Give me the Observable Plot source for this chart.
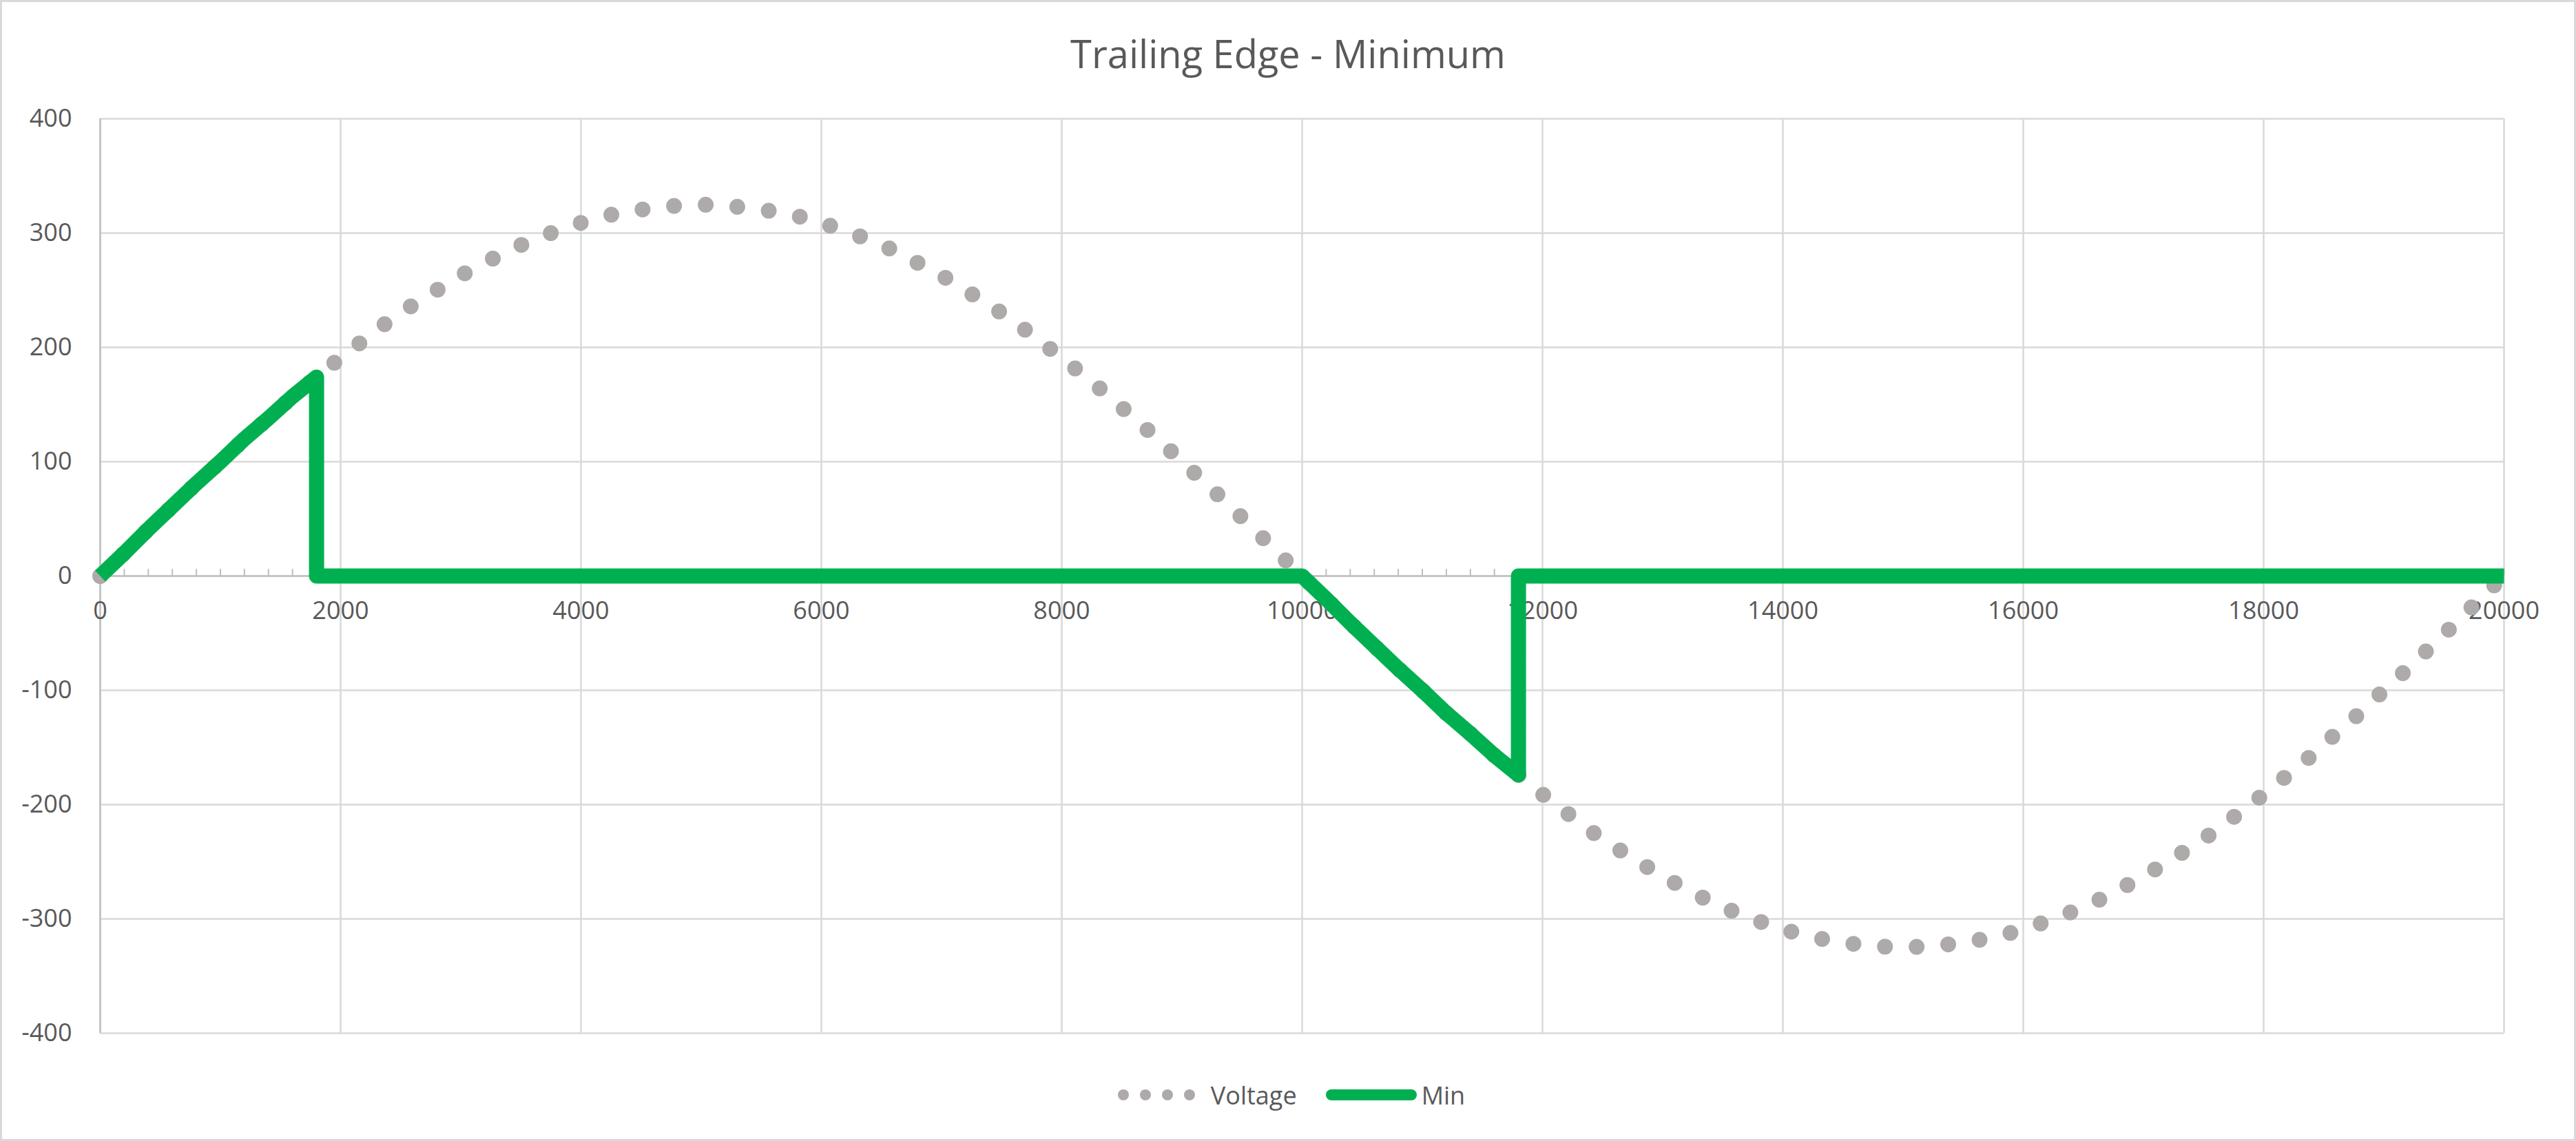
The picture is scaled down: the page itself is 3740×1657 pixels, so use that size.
<!DOCTYPE html>
<html>
<head>
<meta charset="utf-8">
<script src="https://cdn.jsdelivr.net/npm/d3@7"></script>
<script src="https://cdn.jsdelivr.net/npm/@observablehq/plot@0.6"></script>
<style>
  html, body { margin: 0; padding: 0; background: #ffffff; }
  #wrap { position: relative; width: 3740px; height: 1657px; overflow: hidden; background: #ffffff; font-family: 'Open Sans', sans-serif; color: #595959; }
  #border { position: absolute; left: 0; top: 0; right: 0; bottom: 0; border: 3px solid #D9D9D9; pointer-events: none; }
  #title { height: 140px; box-sizing: border-box; padding-top: 14px; line-height: 126px; font-size: 56px; text-align: center; color: #595959; }
  #legend { height: 100px; display: flex; align-items: center; justify-content: center; font-size: 36px; color: #595959; padding-left: 10px; }
  #legend svg { display: block; }
</style>
</head>
<body>
<div id="wrap">
  <div id="title">Trailing Edge - Minimum</div>
  <div id="chart"></div>
  <div id="legend">
    <svg width="112" height="20"><g fill="#AEAAAA"><circle cx="8" cy="10" r="8"/><circle cx="40" cy="10" r="8"/><circle cx="72" cy="10" r="8"/><circle cx="104" cy="10" r="8"/></g></svg>
    <span style="margin-left:23px">Voltage</span>
    <svg width="132" height="16" style="margin-left:42px"><line x1="8" x2="124" y1="8" y2="8" stroke="#00B050" stroke-width="16" stroke-linecap="round"/></svg>
    <span style="margin-left:7px">Min</span>
  </div>
  <div id="border"></div>
</div>
<script>
// Voltage series (sampled every 200 on the x axis)
const time = [0,200,400,600,800,1000,1200,1400,1600,1800,2000,2200,2400,2600,2800,3000,3200,3400,3600,3800,4000,4200,4400,4600,4800,5000,5200,5400,5600,5800,6000,6200,6400,6600,6800,7000,7200,7400,7600,7800,8000,8200,8400,8600,8800,9000,9200,9400,9600,9800,10000,10200,10400,10600,10800,11000,11200,11400,11600,11800,12000,12200,12400,12600,12800,13000,13200,13400,13600,13800,14000,14200,14400,14600,14800,15000,15200,15400,15600,15800,16000,16200,16400,16600,16800,17000,17200,17400,17600,17800,18000,18200,18400,18600,18800,19000,19200,19400,19600,19800,20000];
const voltage = [0,20,41,61,81,100,120,138,157,174,191,207,223,237,250,263,274,285,294,302,309,315,319,322,324,325,324,322,319,315,309,302,294,285,274,263,250,237,223,207,191,174,157,138,120,100,81,61,41,20,0,-20,-41,-61,-81,-100,-120,-138,-157,-174,-191,-207,-223,-237,-250,-263,-274,-285,-294,-302,-309,-315,-319,-322,-324,-325,-324,-322,-319,-315,-309,-302,-294,-285,-274,-263,-250,-237,-223,-207,-191,-174,-157,-138,-120,-100,-81,-61,-41,-20,0];

// Min series
const minTime = [0,200,400,600,800,1000,1200,1400,1600,1800,1800,10000,10200,10400,10600,10800,11000,11200,11400,11600,11800,11800,20000];
const minValue = [0,20,41,61,81,100,120,138,157,174,0,0,-20,-41,-61,-81,-100,-120,-138,-157,-174,0,0];

// Axis ticks
const xTicks = [0,2000,4000,6000,8000,10000,12000,14000,16000,18000,20000];
const yTicks = [-400,-300,-200,-100,0,100,200,300,400];

const voltageData = time.map((t, i) => ({t, v: voltage[i]}));
const minData = minTime.map((t, i) => ({t, v: minValue[i]}));

const chart = Plot.plot({
  width: 3740,
  height: 1400,
  marginTop: 32,
  marginBottom: 40,
  marginLeft: 145,
  marginRight: 105,
  style: {background: "transparent", color: "#595959", fontFamily: "'Open Sans', sans-serif", fontSize: "36px", overflow: "visible"},
  x: {domain: [0, 20000], axis: null},
  y: {domain: [-400, 400], axis: null},
  marks: [
    Plot.gridX(xTicks, {stroke: "#D9D9D9", strokeOpacity: 1, strokeWidth: 2.5}),
    Plot.gridY(yTicks, {stroke: "#D9D9D9", strokeOpacity: 1, strokeWidth: 2.5}),
    Plot.ruleX([0], {stroke: "#BFBFBF", strokeWidth: 2.5}),
    Plot.ruleY([0], {stroke: "#BFBFBF", strokeWidth: 2.5}),
    Plot.ruleX(time, {x: d => d, y1: 0, y2: 0, insetBottom: 10, stroke: "#BFBFBF", strokeWidth: 2}),
    Plot.axisY(yTicks, {tickSize: 0, tickPadding: 41, tickFormat: d => String(d), fontSize: 36, label: null, fill: "#595959"}),
    Plot.text(xTicks, {x: d => d, y: 0, text: d => String(d), dy: 51, fontSize: 36, fill: "#595959"}),
    Plot.line(voltageData, {x: "t", y: "v", stroke: "#AEAAAA", strokeWidth: 23, strokeDasharray: "0 46", strokeLinecap: "round"}),
    Plot.line(minData, {x: "t", y: "v", stroke: "#00B050", strokeWidth: 22, strokeLinejoin: "round", strokeLinecap: "butt"})
  ]
});
document.getElementById("chart").appendChild(chart);
</script>
</body>
</html>
